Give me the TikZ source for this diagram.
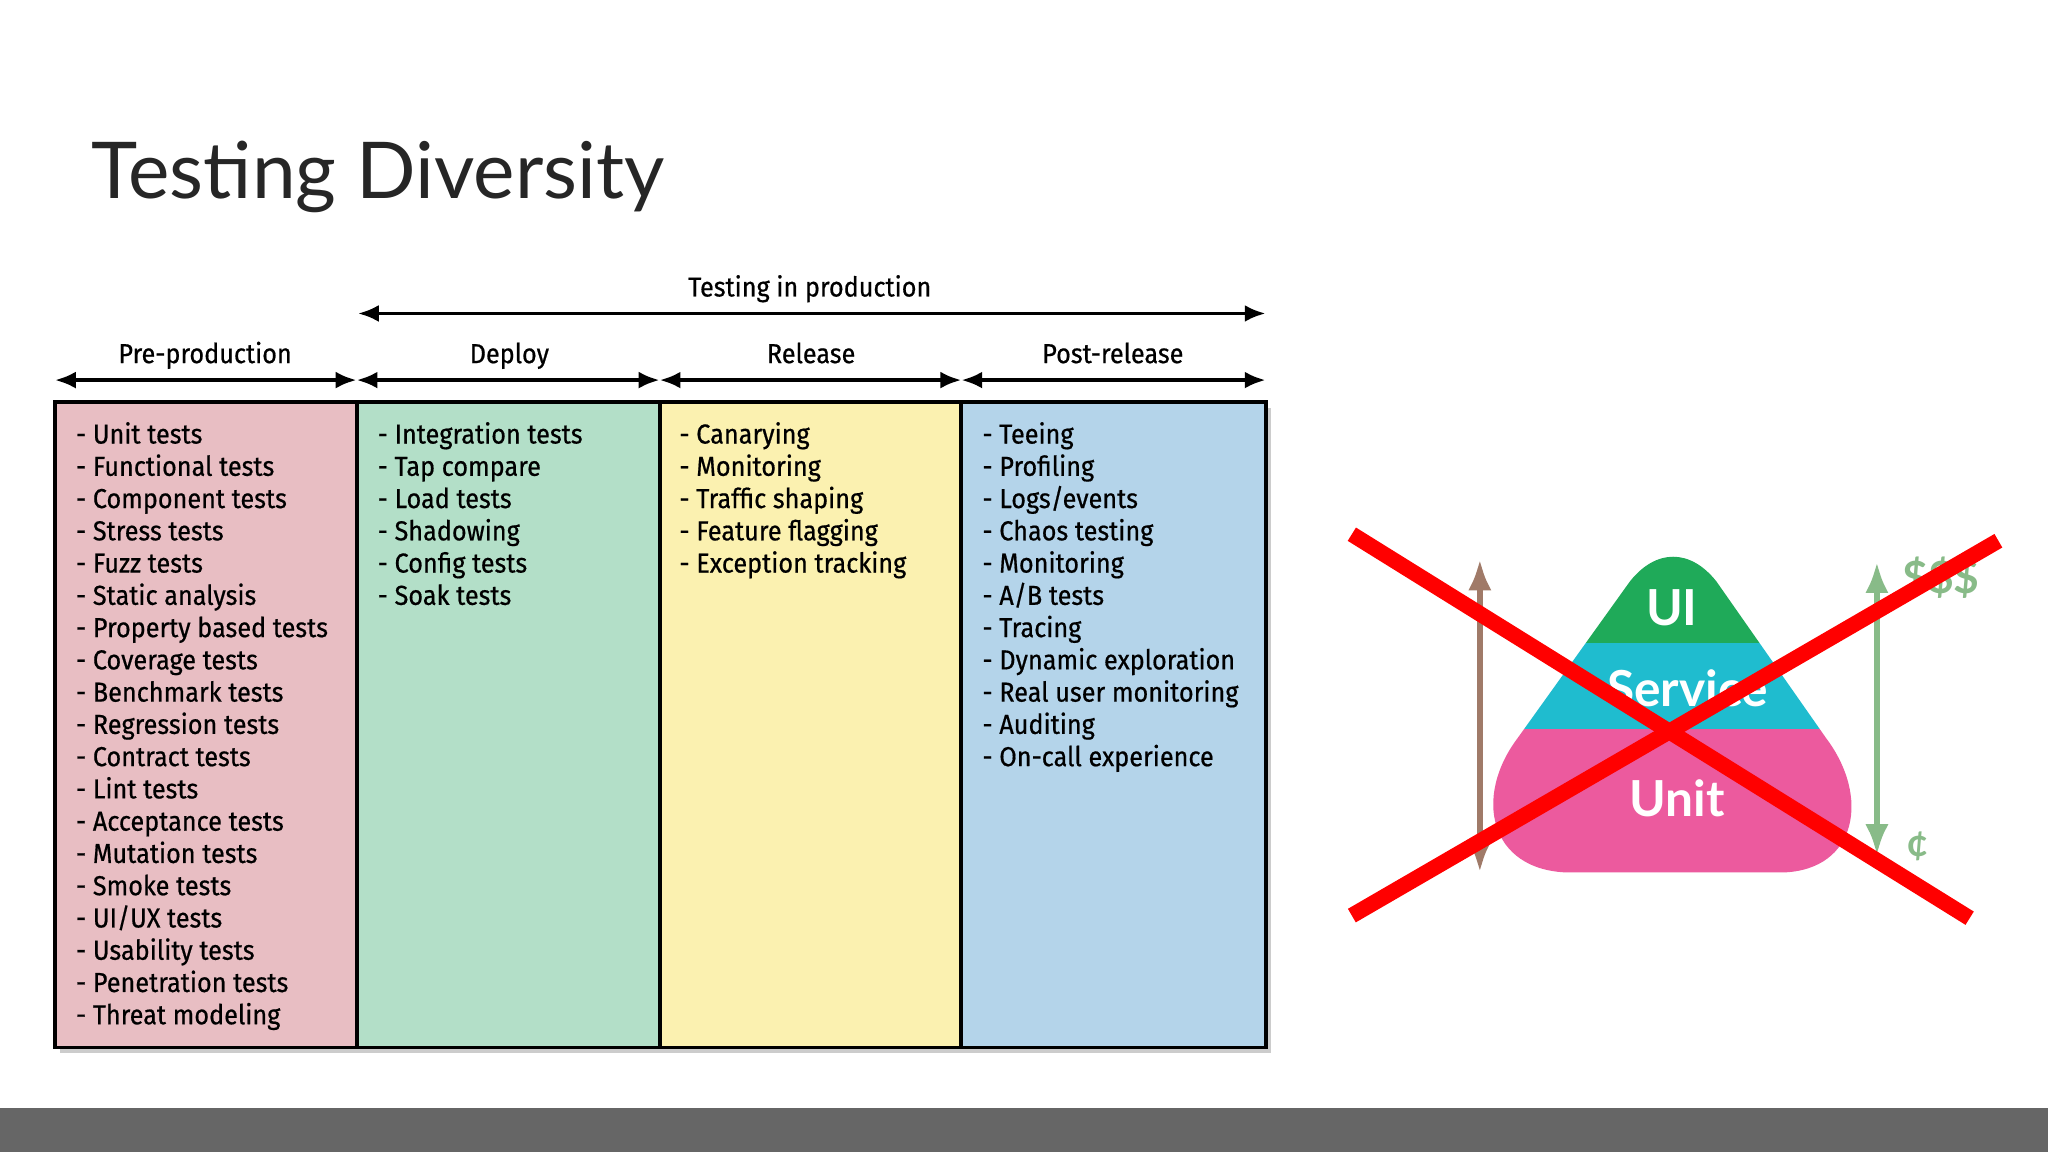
\documentclass[tikz,border=0pt]{standalone}
\usepackage{fontspec}
\setmainfont{Lato}
\newfontfamily\tfont[FakeStretch=0.92,FakeBold=0.6]{Fira Sans}
\usetikzlibrary{arrows.meta}
\definecolor{cpink}{HTML}{E8BEC3}
\definecolor{cgreen}{HTML}{B3DFC8}
\definecolor{cyellow}{HTML}{FBF1B0}
\definecolor{cblue}{HTML}{B4D4EA}
\definecolor{pyg}{HTML}{1FAA59}
\definecolor{pyc}{HTML}{1FBCCF}
\definecolor{pyp}{HTML}{EC5A9E}
\definecolor{brownar}{HTML}{A07A68}
\definecolor{greenar}{HTML}{88BB88}
\tikzset{
 hdr/.style={font=\tfont\fontsize{21}{24}\selectfont, anchor=base},
 item/.style={font=\tfont\fontsize{21}{24.7}\selectfont, anchor=north west, align=left, inner sep=0pt},
 darr/.style={line width=3pt, {Latex[length=16pt,width=13pt]}-{Latex[length=16pt,width=13pt]}},
 col/.style={draw=black, line width=3pt},
 pyt/.style={font=\bfseries\fontsize{38}{40}\selectfont, text=white},
 redx/.style={draw=red, line width=12pt},
}
\begin{document}
\begin{tikzpicture}[x=1pt,y=-1pt]
\useasboundingbox (0,0) rectangle (1568,882);
\fill[white] (0,0) rectangle (1568,882);
\fill[black!60] (0,848) rectangle (1568,882);
\node[anchor=base west, inner sep=0pt, font=\fontsize{60}{66}\selectfont, text=black!85] (title) at (70,152) {Testing Diversity};
% shadow
\fill[black!20] (46,312) rectangle (973,806);
% columns
\fill[cpink] (42,308) rectangle (273,802);
\fill[cgreen] (273,308) rectangle (505,802);
\fill[cyellow] (505,308) rectangle (736,802);
\fill[cblue] (736,308) rectangle (969,802);
\foreach \a/\b in {42/273,273/505,505/736,736/969}{\draw[col] (\a,308) rectangle (\b,802);}
% headers
\node[hdr] (h1) at (157,278) {Pre-production};
\node[hdr] (h2) at (390,278) {Deploy};
\node[hdr] (h3) at (621,278) {Release};
\node[hdr] (h4) at (852,278) {Post-release};
\node[hdr] (htp) at (620,227) {Testing in production};
\coordinate (p0) at (42,291); \coordinate (p1) at (273,291); \coordinate (p2) at (505,291);
\coordinate (p3) at (736,291); \coordinate (p4) at (969,291);
\coordinate (t0) at (274,240); \coordinate (t1) at (969,240);
\draw[darr] (p0) -- (p1);
\draw[darr] (p1) -- (p2);
\draw[darr] (p2) -- (p3);
\draw[darr] (p3) -- (p4);
\draw[darr] (t0) -- (t1);
% lists
\node[item] (l1) at (58,323) {- Unit tests\\- Functional tests\\- Component tests\\- Stress tests\\- Fuzz tests\\- Static analysis\\- Property based tests\\- Coverage tests\\- Benchmark tests\\- Regression tests\\- Contract tests\\- Lint tests\\- Acceptance tests\\- Mutation tests\\- Smoke tests\\- UI/UX tests\\- Usability tests\\- Penetration tests\\- Threat modeling};
\node[item] (l2) at (289,323) {- Integration tests\\- Tap compare\\- Load tests\\- Shadowing\\- Config tests\\- Soak tests};
\node[item] (l3) at (520,323) {- Canarying\\- Monitoring\\- Traffic shaping\\- Feature flagging\\- Exception tracking};
\node[item] (l4) at (752,323) {- Teeing\\- Profiling\\- Logs/events\\- Chaos testing\\- Monitoring\\- A/B tests\\- Tracing\\- Dynamic exploration\\- Real user monitoring\\- Auditing\\- On-call experience};
% pyramid
\begin{scope}
\clip (1200,668) .. controls (1140,666) and (1128,610) .. (1162,565) -- (1248,445) .. controls (1268,420) and (1294,420) .. (1314,445) -- (1398,565) .. controls (1432,610) and (1422,666) .. (1365,668) -- cycle;
\fill[pyg] (1100,400) rectangle (1460,492);
\fill[pyc] (1100,492) rectangle (1460,558);
\fill[pyp] (1100,558) rectangle (1460,700);
\end{scope}
\node[pyt] (ui) at (1280,465) {UI};
\node[pyt] (svc) at (1292,527) {Service};
\node[pyt] (unit) at (1284,611) {Unit};
\coordinate (ba) at (1133,668); \coordinate (bb) at (1133,428);
\draw[brownar, line width=5pt, {Latex[length=24pt,width=18pt]}-{Latex[length=24pt,width=18pt]}] (ba) -- (bb);
\coordinate (ga) at (1437,430); \coordinate (gb) at (1437,655);
\draw[greenar, line width=5pt, {Latex[length=24pt,width=18pt]}-{Latex[length=24pt,width=18pt]}] (ga) -- (gb);
\node[font=\bfseries\fontsize{34}{36}\selectfont, text=greenar] (dol) at (1486,442) {\$\$\$};
\node[font=\bfseries\fontsize{30}{32}\selectfont, text=greenar] (cent) at (1468,648) {¢};
\coordinate (x1) at (1035,409); \coordinate (x2) at (1508,703);
\coordinate (x3) at (1530,414); \coordinate (x4) at (1035,701);
\draw[redx] (x1) -- (x2);
\draw[redx] (x3) -- (x4);
\end{tikzpicture}
\end{document}
